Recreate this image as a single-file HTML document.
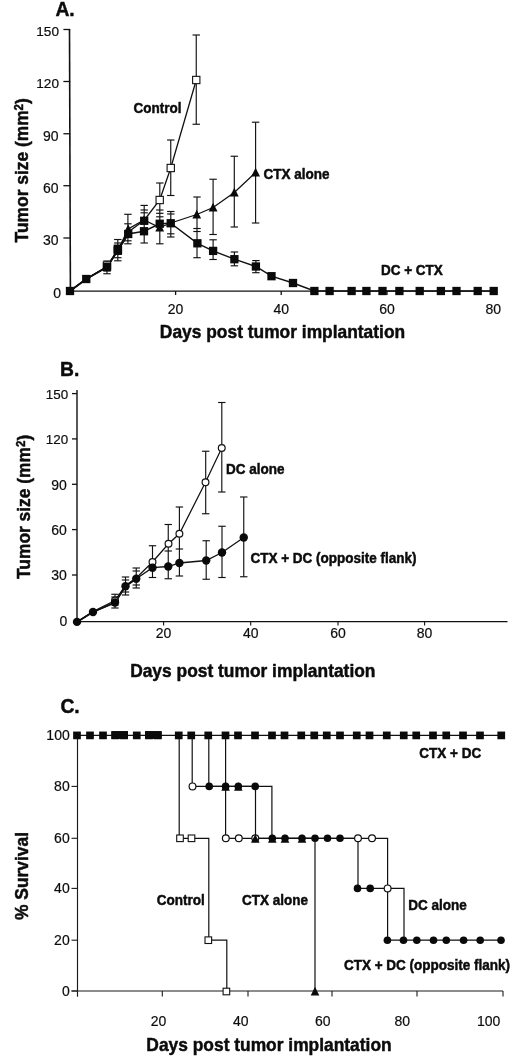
<!DOCTYPE html>
<html><head><meta charset="utf-8"><title>Figure</title>
<style>
html,body{margin:0;padding:0;background:#fff;}
svg{display:block;}
svg text{font-family:"Liberation Sans",sans-serif;fill:#0c0c0c;stroke-linejoin:round;}
</style></head><body>
<svg width="520" height="1060" viewBox="0 0 520 1060">
<rect width="520" height="1060" fill="#fff"/>
<text transform="translate(55.4 16.2) scale(1 1.07)" font-size="19.3" text-anchor="start" font-weight="bold" stroke="#0c0c0c" stroke-width="0.45">A.</text>
<line x1="69.50" y1="29.00" x2="70.40" y2="291.70" stroke="#111" stroke-width="1.6"/>
<line x1="69.50" y1="291.00" x2="494.00" y2="291.00" stroke="#111" stroke-width="1.25"/>
<line x1="63.40" y1="29.50" x2="70.20" y2="29.50" stroke="#111" stroke-width="1.3"/>
<text transform="translate(59.0 36.0)" font-size="13.6" text-anchor="end" stroke="#111" stroke-width="0.2">150</text>
<line x1="63.40" y1="81.50" x2="70.20" y2="81.50" stroke="#111" stroke-width="1.3"/>
<text transform="translate(59.0 88.0)" font-size="13.6" text-anchor="end" stroke="#111" stroke-width="0.2">120</text>
<line x1="63.40" y1="133.75" x2="70.20" y2="133.75" stroke="#111" stroke-width="1.3"/>
<text transform="translate(58.6 140.75)" font-size="14" text-anchor="end" stroke="#111" stroke-width="0.2">90</text>
<line x1="63.40" y1="185.70" x2="70.20" y2="185.70" stroke="#111" stroke-width="1.3"/>
<text transform="translate(58.6 192.7)" font-size="14" text-anchor="end" stroke="#111" stroke-width="0.2">60</text>
<line x1="63.40" y1="238.00" x2="70.20" y2="238.00" stroke="#111" stroke-width="1.3"/>
<text transform="translate(58.6 245.0)" font-size="14" text-anchor="end" stroke="#111" stroke-width="0.2">30</text>
<text transform="translate(61.1 297.5)" font-size="14" text-anchor="end" stroke="#111" stroke-width="0.2">0</text>
<line x1="175.60" y1="291.00" x2="175.60" y2="295.00" stroke="#111" stroke-width="1.3"/>
<text transform="translate(175.6 313.5)" font-size="14" text-anchor="middle" stroke="#111" stroke-width="0.2">20</text>
<line x1="281.20" y1="291.00" x2="281.20" y2="295.00" stroke="#111" stroke-width="1.3"/>
<text transform="translate(281.2 313.5)" font-size="14" text-anchor="middle" stroke="#111" stroke-width="0.2">40</text>
<line x1="387.00" y1="291.00" x2="387.00" y2="295.00" stroke="#111" stroke-width="1.3"/>
<text transform="translate(387 313.5)" font-size="14" text-anchor="middle" stroke="#111" stroke-width="0.2">60</text>
<line x1="493.30" y1="291.00" x2="493.30" y2="295.00" stroke="#111" stroke-width="1.3"/>
<text transform="translate(493.3 313.5)" font-size="14" text-anchor="middle" stroke="#111" stroke-width="0.2">80</text>
<text transform="translate(28.3 170.3) rotate(-90) scale(1 1.07)" font-size="17.4" text-anchor="middle" font-weight="bold" stroke="#0c0c0c" stroke-width="0.45">Tumor size (mm<tspan dy="-5" font-size="11.5">2</tspan><tspan dy="5">)</tspan></text>
<text transform="translate(282.5 337.5) scale(1 1.07)" font-size="17.4" text-anchor="middle" font-weight="bold" stroke="#0c0c0c" stroke-width="0.45">Days post tumor implantation</text>
<line x1="107.00" y1="261.00" x2="107.00" y2="273.75" stroke="#111" stroke-width="1.15"/>
<line x1="103.30" y1="261.00" x2="110.70" y2="261.00" stroke="#111" stroke-width="1.15"/>
<line x1="103.30" y1="263.50" x2="110.70" y2="263.50" stroke="#111" stroke-width="1.15"/>
<line x1="103.30" y1="271.00" x2="110.70" y2="271.00" stroke="#111" stroke-width="1.15"/>
<line x1="103.30" y1="273.75" x2="110.70" y2="273.75" stroke="#111" stroke-width="1.15"/>
<line x1="117.80" y1="239.50" x2="117.80" y2="260.80" stroke="#111" stroke-width="1.15"/>
<line x1="114.10" y1="239.50" x2="121.50" y2="239.50" stroke="#111" stroke-width="1.15"/>
<line x1="114.10" y1="243.00" x2="121.50" y2="243.00" stroke="#111" stroke-width="1.15"/>
<line x1="114.10" y1="257.70" x2="121.50" y2="257.70" stroke="#111" stroke-width="1.15"/>
<line x1="114.10" y1="260.80" x2="121.50" y2="260.80" stroke="#111" stroke-width="1.15"/>
<line x1="127.90" y1="214.30" x2="127.90" y2="243.80" stroke="#111" stroke-width="1.15"/>
<line x1="124.20" y1="214.30" x2="131.60" y2="214.30" stroke="#111" stroke-width="1.15"/>
<line x1="124.20" y1="223.80" x2="131.60" y2="223.80" stroke="#111" stroke-width="1.15"/>
<line x1="124.20" y1="240.80" x2="131.60" y2="240.80" stroke="#111" stroke-width="1.15"/>
<line x1="124.20" y1="243.80" x2="131.60" y2="243.80" stroke="#111" stroke-width="1.15"/>
<line x1="144.20" y1="205.40" x2="144.20" y2="243.00" stroke="#111" stroke-width="1.15"/>
<line x1="140.50" y1="205.40" x2="147.90" y2="205.40" stroke="#111" stroke-width="1.15"/>
<line x1="140.50" y1="210.00" x2="147.90" y2="210.00" stroke="#111" stroke-width="1.15"/>
<line x1="140.50" y1="212.80" x2="147.90" y2="212.80" stroke="#111" stroke-width="1.15"/>
<line x1="140.50" y1="243.00" x2="147.90" y2="243.00" stroke="#111" stroke-width="1.15"/>
<line x1="159.80" y1="183.00" x2="159.80" y2="243.80" stroke="#111" stroke-width="1.15"/>
<line x1="156.10" y1="183.00" x2="163.50" y2="183.00" stroke="#111" stroke-width="1.15"/>
<line x1="156.10" y1="210.00" x2="163.50" y2="210.00" stroke="#111" stroke-width="1.15"/>
<line x1="156.10" y1="213.30" x2="163.50" y2="213.30" stroke="#111" stroke-width="1.15"/>
<line x1="156.10" y1="216.80" x2="163.50" y2="216.80" stroke="#111" stroke-width="1.15"/>
<line x1="156.10" y1="243.80" x2="163.50" y2="243.80" stroke="#111" stroke-width="1.15"/>
<line x1="170.75" y1="140.00" x2="170.75" y2="195.50" stroke="#111" stroke-width="1.15"/>
<line x1="167.05" y1="140.00" x2="174.45" y2="140.00" stroke="#111" stroke-width="1.15"/>
<line x1="167.05" y1="195.50" x2="174.45" y2="195.50" stroke="#111" stroke-width="1.15"/>
<line x1="170.80" y1="211.50" x2="170.80" y2="237.00" stroke="#111" stroke-width="1.15"/>
<line x1="167.10" y1="211.50" x2="174.50" y2="211.50" stroke="#111" stroke-width="1.15"/>
<line x1="167.10" y1="214.00" x2="174.50" y2="214.00" stroke="#111" stroke-width="1.15"/>
<line x1="167.10" y1="233.80" x2="174.50" y2="233.80" stroke="#111" stroke-width="1.15"/>
<line x1="167.10" y1="237.00" x2="174.50" y2="237.00" stroke="#111" stroke-width="1.15"/>
<line x1="196.25" y1="35.00" x2="196.25" y2="124.25" stroke="#111" stroke-width="1.15"/>
<line x1="192.55" y1="35.00" x2="199.95" y2="35.00" stroke="#111" stroke-width="1.15"/>
<line x1="192.55" y1="124.25" x2="199.95" y2="124.25" stroke="#111" stroke-width="1.15"/>
<line x1="197.00" y1="197.00" x2="197.00" y2="257.70" stroke="#111" stroke-width="1.15"/>
<line x1="193.30" y1="197.00" x2="200.70" y2="197.00" stroke="#111" stroke-width="1.15"/>
<line x1="193.30" y1="228.50" x2="200.70" y2="228.50" stroke="#111" stroke-width="1.15"/>
<line x1="193.30" y1="231.50" x2="200.70" y2="231.50" stroke="#111" stroke-width="1.15"/>
<line x1="193.30" y1="257.70" x2="200.70" y2="257.70" stroke="#111" stroke-width="1.15"/>
<line x1="213.10" y1="179.25" x2="213.10" y2="234.50" stroke="#111" stroke-width="1.15"/>
<line x1="209.40" y1="179.25" x2="216.80" y2="179.25" stroke="#111" stroke-width="1.15"/>
<line x1="209.40" y1="234.50" x2="216.80" y2="234.50" stroke="#111" stroke-width="1.15"/>
<line x1="213.10" y1="239.80" x2="213.10" y2="259.50" stroke="#111" stroke-width="1.15"/>
<line x1="209.40" y1="239.80" x2="216.80" y2="239.80" stroke="#111" stroke-width="1.15"/>
<line x1="209.40" y1="259.50" x2="216.80" y2="259.50" stroke="#111" stroke-width="1.15"/>
<line x1="234.30" y1="156.25" x2="234.30" y2="227.00" stroke="#111" stroke-width="1.15"/>
<line x1="230.60" y1="156.25" x2="238.00" y2="156.25" stroke="#111" stroke-width="1.15"/>
<line x1="230.60" y1="227.00" x2="238.00" y2="227.00" stroke="#111" stroke-width="1.15"/>
<line x1="234.40" y1="252.00" x2="234.40" y2="265.80" stroke="#111" stroke-width="1.15"/>
<line x1="230.70" y1="252.00" x2="238.10" y2="252.00" stroke="#111" stroke-width="1.15"/>
<line x1="230.70" y1="265.80" x2="238.10" y2="265.80" stroke="#111" stroke-width="1.15"/>
<line x1="255.60" y1="122.20" x2="255.60" y2="223.00" stroke="#111" stroke-width="1.15"/>
<line x1="251.90" y1="122.20" x2="259.30" y2="122.20" stroke="#111" stroke-width="1.15"/>
<line x1="251.90" y1="223.00" x2="259.30" y2="223.00" stroke="#111" stroke-width="1.15"/>
<line x1="255.90" y1="260.60" x2="255.90" y2="272.70" stroke="#111" stroke-width="1.15"/>
<line x1="252.20" y1="260.60" x2="259.60" y2="260.60" stroke="#111" stroke-width="1.15"/>
<line x1="252.20" y1="272.70" x2="259.60" y2="272.70" stroke="#111" stroke-width="1.15"/>
<polyline fill="none" stroke="#111" stroke-width="1.3" points="70.00,291.00 86.25,279.00 107.00,266.50 118.00,249.50 128.20,232.00 144.00,220.50 159.70,200.00 170.75,168.00 196.25,80.00"/>
<polyline fill="none" stroke="#111" stroke-width="1.3" points="70.00,291.00 86.25,279.00 107.00,267.00 118.00,250.00 128.20,229.00 144.00,220.00 159.70,227.50 170.75,223.00 196.75,214.50 213.10,207.50 234.30,192.50 255.60,172.50"/>
<polyline fill="none" stroke="#111" stroke-width="1.4" points="70.00,291.00 86.25,279.00 107.00,267.00 118.00,250.00 128.20,234.00 144.00,231.25 159.70,223.75 170.75,223.25 197.40,243.30 213.10,250.90 234.40,259.20 255.90,266.50 271.50,276.20 293.00,283.00 314.40,291.00 329.60,291.00 351.60,291.00 366.40,291.00 382.50,291.00 399.40,291.00 419.70,291.00 440.90,291.00 456.50,291.00 477.70,291.00 493.70,291.00"/>
<polyline fill="none" stroke="#111" stroke-width="1.9" points="70.00,291.00 86.25,279.00 107.00,267.00 118.00,250.00 128.20,234.00"/>
<rect x="156.05" y="196.35" width="7.300000000000001" height="7.300000000000001" fill="#fff" stroke="#111" stroke-width="1.1"/>
<rect x="167.10" y="164.35" width="7.300000000000001" height="7.300000000000001" fill="#fff" stroke="#111" stroke-width="1.1"/>
<rect x="192.60" y="76.35" width="7.300000000000001" height="7.300000000000001" fill="#fff" stroke="#111" stroke-width="1.1"/>
<rect x="103.35" y="261.85" width="7.300000000000001" height="7.300000000000001" fill="#fff" stroke="#111" stroke-width="1.1"/>
<polygon points="128.20,224.16 123.80,232.96 132.60,232.96" fill="#0a0a0a"/>
<polygon points="144.00,215.16 139.60,223.96 148.40,223.96" fill="#0a0a0a"/>
<polygon points="159.70,222.66 155.30,231.46 164.10,231.46" fill="#0a0a0a"/>
<polygon points="170.75,218.16 166.35,226.96 175.15,226.96" fill="#0a0a0a"/>
<polygon points="196.75,209.66 192.35,218.46 201.15,218.46" fill="#0a0a0a"/>
<polygon points="213.10,202.66 208.70,211.46 217.50,211.46" fill="#0a0a0a"/>
<polygon points="234.30,187.66 229.90,196.46 238.70,196.46" fill="#0a0a0a"/>
<polygon points="255.60,167.66 251.20,176.46 260.00,176.46" fill="#0a0a0a"/>
<rect x="65.85" y="286.85" width="8.3" height="8.3" fill="#0a0a0a"/>
<rect x="82.10" y="274.85" width="8.3" height="8.3" fill="#0a0a0a"/>
<rect x="102.85" y="262.85" width="8.3" height="8.3" fill="#0a0a0a"/>
<rect x="113.85" y="245.85" width="8.3" height="8.3" fill="#0a0a0a"/>
<rect x="124.05" y="229.85" width="8.3" height="8.3" fill="#0a0a0a"/>
<rect x="139.85" y="227.10" width="8.3" height="8.3" fill="#0a0a0a"/>
<rect x="155.55" y="219.60" width="8.3" height="8.3" fill="#0a0a0a"/>
<rect x="166.60" y="219.10" width="8.3" height="8.3" fill="#0a0a0a"/>
<rect x="193.25" y="239.15" width="8.3" height="8.3" fill="#0a0a0a"/>
<rect x="208.95" y="246.75" width="8.3" height="8.3" fill="#0a0a0a"/>
<rect x="230.25" y="255.05" width="8.3" height="8.3" fill="#0a0a0a"/>
<rect x="251.75" y="262.35" width="8.3" height="8.3" fill="#0a0a0a"/>
<rect x="267.35" y="272.05" width="8.3" height="8.3" fill="#0a0a0a"/>
<rect x="288.85" y="278.85" width="8.3" height="8.3" fill="#0a0a0a"/>
<rect x="310.25" y="286.85" width="8.3" height="8.3" fill="#0a0a0a"/>
<rect x="325.45" y="286.85" width="8.3" height="8.3" fill="#0a0a0a"/>
<rect x="347.45" y="286.85" width="8.3" height="8.3" fill="#0a0a0a"/>
<rect x="362.25" y="286.85" width="8.3" height="8.3" fill="#0a0a0a"/>
<rect x="378.35" y="286.85" width="8.3" height="8.3" fill="#0a0a0a"/>
<rect x="395.25" y="286.85" width="8.3" height="8.3" fill="#0a0a0a"/>
<rect x="415.55" y="286.85" width="8.3" height="8.3" fill="#0a0a0a"/>
<rect x="436.75" y="286.85" width="8.3" height="8.3" fill="#0a0a0a"/>
<rect x="452.35" y="286.85" width="8.3" height="8.3" fill="#0a0a0a"/>
<rect x="473.55" y="286.85" width="8.3" height="8.3" fill="#0a0a0a"/>
<rect x="489.55" y="286.85" width="8.3" height="8.3" fill="#0a0a0a"/>
<rect x="140.05" y="216.65" width="8.3" height="8.3" fill="#0a0a0a"/>
<rect x="113.65" y="244.55" width="8.3" height="8.3" fill="#0a0a0a"/>
<rect x="113.65" y="246.65" width="8.3" height="8.3" fill="#0a0a0a"/>
<text transform="translate(133.5 113) scale(1 1.07)" font-size="13.5" text-anchor="start" font-weight="bold" stroke="#0c0c0c" stroke-width="0.45">Control</text>
<text transform="translate(263.5 178.8) scale(1 1.07)" font-size="13.5" text-anchor="start" font-weight="bold" stroke="#0c0c0c" stroke-width="0.45">CTX alone</text>
<text transform="translate(381 275.3) scale(1 1.07)" font-size="13.5" text-anchor="start" font-weight="bold" stroke="#0c0c0c" stroke-width="0.45">DC + CTX</text>
<text transform="translate(60 376.2) scale(1 1.07)" font-size="19.3" text-anchor="start" font-weight="bold" stroke="#0c0c0c" stroke-width="0.45">B.</text>
<line x1="77.00" y1="390.00" x2="77.00" y2="622.40" stroke="#111" stroke-width="1.4"/>
<line x1="76.30" y1="621.70" x2="507.50" y2="621.70" stroke="#111" stroke-width="1.2"/>
<line x1="72.00" y1="393.60" x2="77.00" y2="393.60" stroke="#111" stroke-width="1.3"/>
<text transform="translate(68.1 399.0)" font-size="13.4" text-anchor="end" stroke="#111" stroke-width="0.2">150</text>
<line x1="72.00" y1="438.90" x2="77.00" y2="438.90" stroke="#111" stroke-width="1.3"/>
<text transform="translate(68.1 444.29999999999995)" font-size="13.4" text-anchor="end" stroke="#111" stroke-width="0.2">120</text>
<line x1="72.00" y1="484.30" x2="77.00" y2="484.30" stroke="#111" stroke-width="1.3"/>
<text transform="translate(66.9 489.7)" font-size="14" text-anchor="end" stroke="#111" stroke-width="0.2">90</text>
<line x1="72.00" y1="529.60" x2="77.00" y2="529.60" stroke="#111" stroke-width="1.3"/>
<text transform="translate(66.9 535.0)" font-size="14" text-anchor="end" stroke="#111" stroke-width="0.2">60</text>
<line x1="72.00" y1="575.00" x2="77.00" y2="575.00" stroke="#111" stroke-width="1.3"/>
<text transform="translate(66.9 580.4)" font-size="14" text-anchor="end" stroke="#111" stroke-width="0.2">30</text>
<text transform="translate(67.3 626.2)" font-size="14" text-anchor="end" stroke="#111" stroke-width="0.2">0</text>
<line x1="163.60" y1="621.70" x2="163.60" y2="625.50" stroke="#111" stroke-width="1.1"/>
<text transform="translate(163.6 638.3)" font-size="14" text-anchor="middle" stroke="#111" stroke-width="0.2">20</text>
<line x1="250.70" y1="621.70" x2="250.70" y2="625.50" stroke="#111" stroke-width="1.1"/>
<text transform="translate(250.7 638.3)" font-size="14" text-anchor="middle" stroke="#111" stroke-width="0.2">40</text>
<line x1="338.00" y1="621.70" x2="338.00" y2="625.50" stroke="#111" stroke-width="1.1"/>
<text transform="translate(338 638.3)" font-size="14" text-anchor="middle" stroke="#111" stroke-width="0.2">60</text>
<line x1="424.60" y1="621.70" x2="424.60" y2="625.50" stroke="#111" stroke-width="1.1"/>
<text transform="translate(424.6 638.3)" font-size="14" text-anchor="middle" stroke="#111" stroke-width="0.2">80</text>
<text transform="translate(30.4 506.9) rotate(-90) scale(1 1.07)" font-size="17.4" text-anchor="middle" font-weight="bold" stroke="#0c0c0c" stroke-width="0.45">Tumor size (mm<tspan dy="-5" font-size="11.5">2</tspan><tspan dy="5">)</tspan></text>
<text transform="translate(252.8 676.5) scale(1 1.07)" font-size="17.4" text-anchor="middle" font-weight="bold" stroke="#0c0c0c" stroke-width="0.45">Days post tumor implantation</text>
<line x1="115.00" y1="594.25" x2="115.00" y2="608.00" stroke="#111" stroke-width="1.15"/>
<line x1="111.30" y1="594.25" x2="118.70" y2="594.25" stroke="#111" stroke-width="1.15"/>
<line x1="111.30" y1="597.00" x2="118.70" y2="597.00" stroke="#111" stroke-width="1.15"/>
<line x1="111.30" y1="605.00" x2="118.70" y2="605.00" stroke="#111" stroke-width="1.15"/>
<line x1="111.30" y1="608.00" x2="118.70" y2="608.00" stroke="#111" stroke-width="1.15"/>
<line x1="125.50" y1="577.00" x2="125.50" y2="595.00" stroke="#111" stroke-width="1.15"/>
<line x1="121.80" y1="577.00" x2="129.20" y2="577.00" stroke="#111" stroke-width="1.15"/>
<line x1="121.80" y1="580.00" x2="129.20" y2="580.00" stroke="#111" stroke-width="1.15"/>
<line x1="121.80" y1="592.00" x2="129.20" y2="592.00" stroke="#111" stroke-width="1.15"/>
<line x1="121.80" y1="595.00" x2="129.20" y2="595.00" stroke="#111" stroke-width="1.15"/>
<line x1="136.25" y1="568.00" x2="136.25" y2="588.00" stroke="#111" stroke-width="1.15"/>
<line x1="132.55" y1="568.00" x2="139.95" y2="568.00" stroke="#111" stroke-width="1.15"/>
<line x1="132.55" y1="571.00" x2="139.95" y2="571.00" stroke="#111" stroke-width="1.15"/>
<line x1="132.55" y1="585.00" x2="139.95" y2="585.00" stroke="#111" stroke-width="1.15"/>
<line x1="132.55" y1="588.00" x2="139.95" y2="588.00" stroke="#111" stroke-width="1.15"/>
<line x1="152.50" y1="545.75" x2="152.50" y2="577.50" stroke="#111" stroke-width="1.15"/>
<line x1="148.80" y1="545.75" x2="156.20" y2="545.75" stroke="#111" stroke-width="1.15"/>
<line x1="148.80" y1="577.50" x2="156.20" y2="577.50" stroke="#111" stroke-width="1.15"/>
<line x1="168.25" y1="524.50" x2="168.25" y2="578.75" stroke="#111" stroke-width="1.15"/>
<line x1="164.55" y1="524.50" x2="171.95" y2="524.50" stroke="#111" stroke-width="1.15"/>
<line x1="164.55" y1="551.00" x2="171.95" y2="551.00" stroke="#111" stroke-width="1.15"/>
<line x1="164.55" y1="578.75" x2="171.95" y2="578.75" stroke="#111" stroke-width="1.15"/>
<line x1="179.40" y1="507.00" x2="179.40" y2="576.00" stroke="#111" stroke-width="1.15"/>
<line x1="175.70" y1="507.00" x2="183.10" y2="507.00" stroke="#111" stroke-width="1.15"/>
<line x1="175.70" y1="549.00" x2="183.10" y2="549.00" stroke="#111" stroke-width="1.15"/>
<line x1="175.70" y1="576.00" x2="183.10" y2="576.00" stroke="#111" stroke-width="1.15"/>
<line x1="205.70" y1="451.25" x2="205.70" y2="513.75" stroke="#111" stroke-width="1.15"/>
<line x1="202.00" y1="451.25" x2="209.40" y2="451.25" stroke="#111" stroke-width="1.15"/>
<line x1="202.00" y1="513.75" x2="209.40" y2="513.75" stroke="#111" stroke-width="1.15"/>
<line x1="206.20" y1="540.75" x2="206.20" y2="579.25" stroke="#111" stroke-width="1.15"/>
<line x1="202.50" y1="540.75" x2="209.90" y2="540.75" stroke="#111" stroke-width="1.15"/>
<line x1="202.50" y1="579.25" x2="209.90" y2="579.25" stroke="#111" stroke-width="1.15"/>
<line x1="221.80" y1="402.50" x2="221.80" y2="492.00" stroke="#111" stroke-width="1.15"/>
<line x1="218.10" y1="402.50" x2="225.50" y2="402.50" stroke="#111" stroke-width="1.15"/>
<line x1="218.10" y1="492.00" x2="225.50" y2="492.00" stroke="#111" stroke-width="1.15"/>
<line x1="222.00" y1="526.25" x2="222.00" y2="577.50" stroke="#111" stroke-width="1.15"/>
<line x1="218.30" y1="526.25" x2="225.70" y2="526.25" stroke="#111" stroke-width="1.15"/>
<line x1="218.30" y1="577.50" x2="225.70" y2="577.50" stroke="#111" stroke-width="1.15"/>
<line x1="243.75" y1="497.00" x2="243.75" y2="576.75" stroke="#111" stroke-width="1.15"/>
<line x1="240.05" y1="497.00" x2="247.45" y2="497.00" stroke="#111" stroke-width="1.15"/>
<line x1="240.05" y1="576.75" x2="247.45" y2="576.75" stroke="#111" stroke-width="1.15"/>
<polyline fill="none" stroke="#111" stroke-width="1.25" points="77.00,621.90 93.00,611.50 115.00,600.50 125.50,585.50 136.25,578.00 152.50,562.00 168.50,543.75 179.40,533.75 205.50,482.30 221.75,448.00"/>
<polyline fill="none" stroke="#111" stroke-width="1.3" points="77.00,621.90 93.00,612.00 115.00,602.50 125.50,586.25 136.25,578.75 152.50,567.70 168.25,566.50 179.40,563.00 206.20,560.50 222.00,552.50 243.75,537.50"/>
<polyline fill="none" stroke="#111" stroke-width="1.8" points="77.00,621.90 93.00,612.00 115.00,602.50 125.50,586.25 136.25,578.75"/>
<circle cx="115.00" cy="600.50" r="3.4" fill="#fff" stroke="#111" stroke-width="1.2"/>
<circle cx="152.50" cy="562.00" r="3.4" fill="#fff" stroke="#111" stroke-width="1.2"/>
<circle cx="168.50" cy="543.75" r="3.4" fill="#fff" stroke="#111" stroke-width="1.2"/>
<circle cx="179.40" cy="533.75" r="3.4" fill="#fff" stroke="#111" stroke-width="1.2"/>
<circle cx="205.50" cy="482.30" r="3.4" fill="#fff" stroke="#111" stroke-width="1.2"/>
<circle cx="221.75" cy="448.00" r="3.4" fill="#fff" stroke="#111" stroke-width="1.2"/>
<circle cx="77.00" cy="621.90" r="4.2" fill="#0a0a0a"/>
<circle cx="93.00" cy="612.00" r="4.2" fill="#0a0a0a"/>
<circle cx="115.00" cy="602.50" r="4.2" fill="#0a0a0a"/>
<circle cx="125.50" cy="586.25" r="4.2" fill="#0a0a0a"/>
<circle cx="136.25" cy="578.75" r="4.2" fill="#0a0a0a"/>
<circle cx="152.50" cy="567.70" r="4.2" fill="#0a0a0a"/>
<circle cx="168.25" cy="566.50" r="4.2" fill="#0a0a0a"/>
<circle cx="179.40" cy="563.00" r="4.2" fill="#0a0a0a"/>
<circle cx="206.20" cy="560.50" r="4.2" fill="#0a0a0a"/>
<circle cx="222.00" cy="552.50" r="4.2" fill="#0a0a0a"/>
<circle cx="243.75" cy="537.50" r="4.2" fill="#0a0a0a"/>
<text transform="translate(226 473.8) scale(1 1.07)" font-size="13.5" text-anchor="start" font-weight="bold" stroke="#0c0c0c" stroke-width="0.45">DC alone</text>
<text transform="translate(250.5 563) scale(1 1.07)" font-size="13.5" text-anchor="start" font-weight="bold" stroke="#0c0c0c" stroke-width="0.45">CTX + DC (opposite flank)</text>
<text transform="translate(60.4 712.6) scale(1 1.07)" font-size="19.3" text-anchor="start" font-weight="bold" stroke="#0c0c0c" stroke-width="0.45">C.</text>
<line x1="77.50" y1="735.00" x2="77.50" y2="996.80" stroke="#1a1a1a" stroke-width="1.15"/>
<line x1="71.50" y1="991.00" x2="503.00" y2="991.00" stroke="#1a1a1a" stroke-width="1.15"/>
<text transform="translate(69.7 740.0)" font-size="14" text-anchor="end" stroke="#111" stroke-width="0.2">100</text>
<line x1="71.50" y1="786.40" x2="77.50" y2="786.40" stroke="#1a1a1a" stroke-width="1.1"/>
<text transform="translate(69.7 791.0)" font-size="14" text-anchor="end" stroke="#111" stroke-width="0.2">80</text>
<line x1="71.50" y1="838.30" x2="77.50" y2="838.30" stroke="#1a1a1a" stroke-width="1.1"/>
<text transform="translate(69.7 842.9)" font-size="14" text-anchor="end" stroke="#111" stroke-width="0.2">60</text>
<line x1="71.50" y1="888.40" x2="77.50" y2="888.40" stroke="#1a1a1a" stroke-width="1.1"/>
<text transform="translate(69.7 893.0)" font-size="14" text-anchor="end" stroke="#111" stroke-width="0.2">40</text>
<line x1="71.50" y1="940.20" x2="77.50" y2="940.20" stroke="#1a1a1a" stroke-width="1.1"/>
<text transform="translate(69.7 944.8000000000001)" font-size="14" text-anchor="end" stroke="#111" stroke-width="0.2">20</text>
<line x1="71.50" y1="991.00" x2="77.50" y2="991.00" stroke="#1a1a1a" stroke-width="1.1"/>
<text transform="translate(69.7 995.6)" font-size="14" text-anchor="end" stroke="#111" stroke-width="0.2">0</text>
<line x1="162.30" y1="991.00" x2="162.30" y2="996.50" stroke="#1a1a1a" stroke-width="1.1"/>
<text transform="translate(158.5 1026.3)" font-size="14" text-anchor="middle" stroke="#111" stroke-width="0.2">20</text>
<line x1="248.00" y1="991.00" x2="248.00" y2="996.50" stroke="#1a1a1a" stroke-width="1.1"/>
<text transform="translate(240.7 1026.3)" font-size="14" text-anchor="middle" stroke="#111" stroke-width="0.2">40</text>
<line x1="332.00" y1="991.00" x2="332.00" y2="996.50" stroke="#1a1a1a" stroke-width="1.1"/>
<text transform="translate(322.7 1026.3)" font-size="14" text-anchor="middle" stroke="#111" stroke-width="0.2">60</text>
<line x1="417.00" y1="991.00" x2="417.00" y2="996.50" stroke="#1a1a1a" stroke-width="1.1"/>
<text transform="translate(402.3 1026.3)" font-size="14" text-anchor="middle" stroke="#111" stroke-width="0.2">80</text>
<line x1="503.00" y1="991.00" x2="503.00" y2="996.50" stroke="#1a1a1a" stroke-width="1.1"/>
<text transform="translate(488.6 1026.3)" font-size="14" text-anchor="middle" stroke="#111" stroke-width="0.2">100</text>
<text transform="translate(28.4 876) rotate(-90) scale(1 1.07)" font-size="17.4" text-anchor="middle" font-weight="bold" stroke="#0c0c0c" stroke-width="0.45">% Survival</text>
<text transform="translate(269 1051) scale(1 1.07)" font-size="17.4" text-anchor="middle" font-weight="bold" stroke="#0c0c0c" stroke-width="0.45">Days post tumor implantation</text>
<line x1="77.00" y1="735.40" x2="501.25" y2="735.40" stroke="#111" stroke-width="1.3"/>
<polyline fill="none" stroke="#111" stroke-width="1.2" points="179.20,735.40 179.20,838.30 208.80,838.30 208.80,940.20 226.80,940.20 226.80,991.00"/>
<polyline fill="none" stroke="#111" stroke-width="1.2" points="192.20,735.40 192.20,786.40 225.60,786.40 225.60,838.30 387.60,838.30 387.60,888.40 404.00,888.40 404.00,940.20"/>
<polyline fill="none" stroke="#111" stroke-width="1.2" points="208.80,735.40 208.80,786.40 271.90,786.40 271.90,838.30 358.00,838.30 358.00,888.40 387.60,888.40 387.60,940.20 501.00,940.20"/>
<polyline fill="none" stroke="#111" stroke-width="1.2" points="225.60,735.40 225.60,786.40 255.50,786.40 255.50,838.30 315.00,838.30 315.00,991.00"/>
<rect x="73.15" y="731.55" width="7.7" height="7.7" fill="#0a0a0a"/>
<rect x="86.15" y="731.55" width="7.7" height="7.7" fill="#0a0a0a"/>
<rect x="99.15" y="731.55" width="7.7" height="7.7" fill="#0a0a0a"/>
<rect x="111.45" y="731.55" width="7.7" height="7.7" fill="#0a0a0a"/>
<rect x="120.15" y="731.55" width="7.7" height="7.7" fill="#0a0a0a"/>
<rect x="132.90" y="731.55" width="7.7" height="7.7" fill="#0a0a0a"/>
<rect x="145.15" y="731.55" width="7.7" height="7.7" fill="#0a0a0a"/>
<rect x="153.90" y="731.55" width="7.7" height="7.7" fill="#0a0a0a"/>
<rect x="174.90" y="731.55" width="7.7" height="7.7" fill="#0a0a0a"/>
<rect x="187.40" y="731.55" width="7.7" height="7.7" fill="#0a0a0a"/>
<rect x="204.40" y="731.55" width="7.7" height="7.7" fill="#0a0a0a"/>
<rect x="221.65" y="731.55" width="7.7" height="7.7" fill="#0a0a0a"/>
<rect x="234.15" y="731.55" width="7.7" height="7.7" fill="#0a0a0a"/>
<rect x="251.15" y="731.55" width="7.7" height="7.7" fill="#0a0a0a"/>
<rect x="268.15" y="731.55" width="7.7" height="7.7" fill="#0a0a0a"/>
<rect x="280.65" y="731.55" width="7.7" height="7.7" fill="#0a0a0a"/>
<rect x="297.40" y="731.55" width="7.7" height="7.7" fill="#0a0a0a"/>
<rect x="310.40" y="731.55" width="7.7" height="7.7" fill="#0a0a0a"/>
<rect x="322.90" y="731.55" width="7.7" height="7.7" fill="#0a0a0a"/>
<rect x="336.15" y="731.55" width="7.7" height="7.7" fill="#0a0a0a"/>
<rect x="352.90" y="731.55" width="7.7" height="7.7" fill="#0a0a0a"/>
<rect x="365.65" y="731.55" width="7.7" height="7.7" fill="#0a0a0a"/>
<rect x="382.90" y="731.55" width="7.7" height="7.7" fill="#0a0a0a"/>
<rect x="399.90" y="731.55" width="7.7" height="7.7" fill="#0a0a0a"/>
<rect x="412.40" y="731.55" width="7.7" height="7.7" fill="#0a0a0a"/>
<rect x="429.15" y="731.55" width="7.7" height="7.7" fill="#0a0a0a"/>
<rect x="442.40" y="731.55" width="7.7" height="7.7" fill="#0a0a0a"/>
<rect x="459.15" y="731.55" width="7.7" height="7.7" fill="#0a0a0a"/>
<rect x="476.15" y="731.55" width="7.7" height="7.7" fill="#0a0a0a"/>
<rect x="497.40" y="731.55" width="7.7" height="7.7" fill="#0a0a0a"/>
<rect x="111.3" y="731.05" width="16.7" height="7.9" fill="#0a0a0a"/>
<rect x="145" y="731.05" width="16.7" height="7.9" fill="#0a0a0a"/>
<rect x="176.70" y="835.00" width="6.6" height="6.6" fill="#fff" stroke="#111" stroke-width="1.1"/>
<rect x="188.20" y="835.00" width="6.6" height="6.6" fill="#fff" stroke="#111" stroke-width="1.1"/>
<rect x="205.00" y="936.90" width="6.6" height="6.6" fill="#fff" stroke="#111" stroke-width="1.1"/>
<rect x="223.10" y="988.20" width="6.6" height="6.6" fill="#fff" stroke="#111" stroke-width="1.1"/>
<circle cx="192.50" cy="786.40" r="3.4" fill="#fff" stroke="#111" stroke-width="1.2"/>
<circle cx="225.80" cy="838.30" r="3.4" fill="#fff" stroke="#111" stroke-width="1.2"/>
<circle cx="238.80" cy="838.30" r="3.4" fill="#fff" stroke="#111" stroke-width="1.2"/>
<circle cx="255.30" cy="838.30" r="3.4" fill="#fff" stroke="#111" stroke-width="1.2"/>
<circle cx="358.00" cy="838.30" r="3.4" fill="#fff" stroke="#111" stroke-width="1.2"/>
<circle cx="372.00" cy="838.30" r="3.4" fill="#fff" stroke="#111" stroke-width="1.2"/>
<circle cx="387.60" cy="888.40" r="3.4" fill="#fff" stroke="#111" stroke-width="1.2"/>
<circle cx="209.20" cy="786.40" r="3.8" fill="#0a0a0a"/>
<circle cx="225.60" cy="786.40" r="3.8" fill="#0a0a0a"/>
<circle cx="238.30" cy="786.40" r="3.8" fill="#0a0a0a"/>
<circle cx="255.20" cy="786.40" r="3.8" fill="#0a0a0a"/>
<circle cx="272.30" cy="838.30" r="3.8" fill="#0a0a0a"/>
<circle cx="285.00" cy="838.30" r="3.8" fill="#0a0a0a"/>
<circle cx="302.00" cy="838.30" r="3.8" fill="#0a0a0a"/>
<circle cx="315.00" cy="838.30" r="3.8" fill="#0a0a0a"/>
<circle cx="327.50" cy="838.30" r="3.8" fill="#0a0a0a"/>
<circle cx="340.00" cy="838.30" r="3.8" fill="#0a0a0a"/>
<circle cx="357.50" cy="888.40" r="3.8" fill="#0a0a0a"/>
<circle cx="370.20" cy="888.40" r="3.8" fill="#0a0a0a"/>
<circle cx="387.40" cy="940.20" r="3.8" fill="#0a0a0a"/>
<circle cx="403.50" cy="940.20" r="3.8" fill="#0a0a0a"/>
<circle cx="416.80" cy="940.20" r="3.8" fill="#0a0a0a"/>
<circle cx="433.50" cy="940.20" r="3.8" fill="#0a0a0a"/>
<circle cx="446.30" cy="940.20" r="3.8" fill="#0a0a0a"/>
<circle cx="463.60" cy="940.20" r="3.8" fill="#0a0a0a"/>
<circle cx="480.20" cy="940.20" r="3.8" fill="#0a0a0a"/>
<circle cx="501.00" cy="940.20" r="3.8" fill="#0a0a0a"/>
<polygon points="225.60,782.27 221.30,790.87 229.90,790.87" fill="#0a0a0a"/>
<polygon points="238.30,782.27 234.00,790.87 242.60,790.87" fill="#0a0a0a"/>
<polygon points="255.30,834.17 251.00,842.77 259.60,842.77" fill="#0a0a0a"/>
<polygon points="272.30,834.17 268.00,842.77 276.60,842.77" fill="#0a0a0a"/>
<polygon points="285.00,834.17 280.70,842.77 289.30,842.77" fill="#0a0a0a"/>
<polygon points="302.00,834.17 297.70,842.77 306.30,842.77" fill="#0a0a0a"/>
<polygon points="315.00,986.87 310.70,995.47 319.30,995.47" fill="#0a0a0a"/>
<text transform="translate(419.3 757.5) scale(1 1.07)" font-size="13.5" text-anchor="start" font-weight="bold" stroke="#0c0c0c" stroke-width="0.45">CTX + DC</text>
<text transform="translate(156.7 905.2) scale(1 1.07)" font-size="13.5" text-anchor="start" font-weight="bold" stroke="#0c0c0c" stroke-width="0.45">Control</text>
<text transform="translate(242 905.2) scale(1 1.07)" font-size="13.5" text-anchor="start" font-weight="bold" stroke="#0c0c0c" stroke-width="0.45">CTX alone</text>
<text transform="translate(408.3 909.6) scale(1 1.07)" font-size="13.5" text-anchor="start" font-weight="bold" stroke="#0c0c0c" stroke-width="0.45">DC alone</text>
<text transform="translate(344 969.5) scale(1 1.07)" font-size="13.5" text-anchor="start" font-weight="bold" stroke="#0c0c0c" stroke-width="0.45">CTX + DC (opposite flank)</text>
</svg>
</body></html>
